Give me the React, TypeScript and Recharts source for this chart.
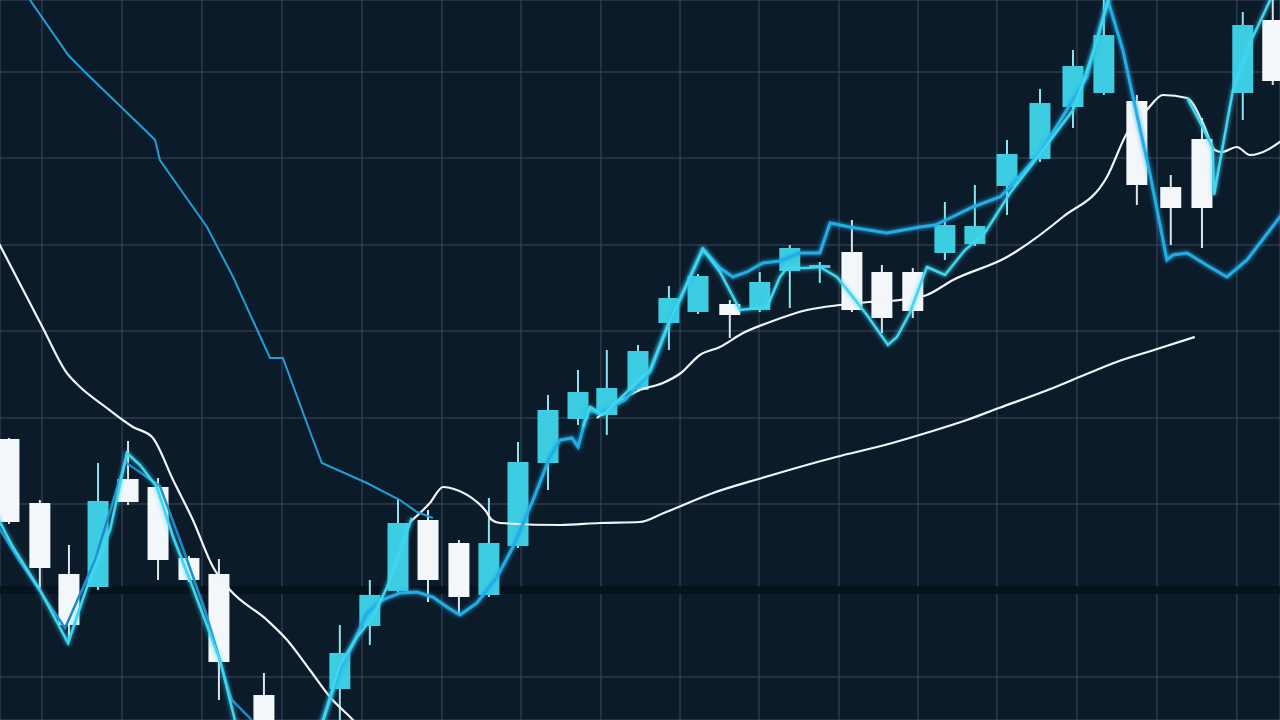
import React from 'react';
import { ComposedChart, Bar, Line, XAxis, YAxis, CartesianGrid, ReferenceArea } from 'recharts';

// candle sessions (x) and prices
const sessions = [0, 1.03, 2, 2.97, 3.97, 4.97, 6, 7, 8.5, 11.03, 12.03, 12.97, 13.97, 15, 16, 16.97, 17.97, 18.97, 19.93, 20.97, 22, 22.97, 24.03, 25.03, 26.03, 27.03, 28.1, 29.1, 30.13, 31.2, 32.2, 33.27, 34.37, 35.47, 36.5, 37.6, 38.73, 39.77, 41.13, 42.13];
const opens = [128.1, 121.7, 114.6, 113.3, 124.1, 123.3, 116.2, 114.6, 102.5, 103.1, 109.4, 112.9, 120.0, 117.7, 112.5, 117.4, 125.7, 130.1, 130.5, 133.0, 139.7, 140.8, 141.6, 141.0, 144.9, 145.2, 146.8, 144.8, 144.8, 146.7, 147.6, 153.4, 156.1, 161.3, 162.7, 161.9, 153.3, 158.1, 162.7, 170.0];
const closes = [119.8, 115.2, 109.5, 121.9, 121.8, 116.0, 114.0, 105.8, 100.0, 106.7, 112.5, 119.7, 114.0, 112.3, 117.7, 125.8, 131.0, 132.8, 133.2, 136.9, 142.2, 144.4, 140.5, 143.8, 147.2, 145.5, 141.0, 140.2, 140.9, 149.5, 149.4, 156.6, 161.7, 165.4, 168.5, 153.5, 151.2, 151.2, 169.5, 163.9];
const highs = [128.2, 122.0, 117.5, 125.7, 127.9, 124.2, 116.4, 116.1, 104.7, 109.5, 114.0, 122.0, 121.0, 118.0, 122.2, 127.8, 132.5, 135.0, 137.0, 137.5, 143.4, 144.6, 142.0, 144.8, 147.5, 145.8, 150.0, 145.5, 145.2, 151.8, 153.5, 158.0, 163.1, 167.0, 172.0, 162.5, 154.5, 160.2, 170.8, 172.0];
const lows = [119.6, 113.2, 108.0, 113.0, 121.5, 114.0, 113.8, 102.0, 100.0, 100.0, 107.5, 112.5, 111.8, 110.7, 112.3, 117.2, 123.0, 129.5, 128.5, 132.8, 137.0, 140.6, 138.2, 140.8, 141.2, 143.7, 140.8, 138.7, 140.2, 146.0, 147.4, 150.5, 155.8, 159.2, 162.5, 151.5, 147.5, 147.2, 160.0, 163.5];

// indicator lines: [session, value]
const slowBlue: [number, number | null][] = [
  [0.5, 173.5], [0.7, 172.0], [1.97, 166.5], [2.53, 164.8], [4.6, 158.8], [4.87, 158.0], [5.03, 156.0],
  [6.6, 149.3], [7.47, 144.3], [8.7, 136.2], [9.13, 136.2], [10.1, 128.3], [10.43, 125.7], [11.93, 123.7],
  [13.03, 122.0], [13.6, 120.8], [14.13, 120.2],
];
const fastCyan: [number, number | null][] = [
  [-0.6, 121.5], [0.13, 117.3], [1.03, 113.0], [1.97, 107.7], [2.6, 113.3], [3.37, 119.0], [3.93, 126.7],
  [4.37, 125.5], [4.93, 123.3], [5.47, 118.3], [6.03, 114.0], [7.03, 106.0], [7.53, 100.0], [8.03, 95.0],
  [9.7, 95.0], [10.47, 100.0], [11.03, 105.5], [11.6, 108.3], [12.13, 110.3], [12.6, 113.3], [12.93, 116.0],
  [13.43, 120.2], [16, null],
  [19.13, 129.3], [19.37, 131.3], [19.8, 130.5], [21.37, 135.0], [21.97, 139.5], [22.43, 142.5], [23.13, 147.1],
  [23.7, 144.8], [24.37, 141.0], [25.27, 141.3], [25.7, 144.3], [25.93, 145.2], [26.6, 145.2], [27.03, 145.3],
  [27.6, 144.3], [28.13, 142.3], [28.6, 140.5], [29.3, 137.5], [29.6, 138.3], [30.03, 140.7], [30.6, 145.3],
  [31.2, 144.5], [31.87, 147.0], [32.53, 148.7], [33.37, 152.7], [34.47, 157.0], [35.47, 161.0], [35.8, 163.7],
  [36.27, 168.0], [36.7, 172.5], [38, null],
  [39.27, 162.2], [39.7, 159.8], [40.13, 157.2], [40.17, 152.5], [40.8, 163.0], [41.37, 167.7], [42.2, 173.0],
];
const shadowBlue: [number, number | null][] = [
  [-0.6, 120.5], [0.37, 115.8], [1.87, 109.2], [2.87, 116.0], [3.87, 125.8], [5.03, 123.4], [5.7, 118.0],
  [6.53, 111.0], [7.43, 102.0], [8.03, 100.2], [8.7, 97.0],
];
const emaCyan: [number, number | null][] = [
  [10.2, 97.5], [11.03, 105.0], [11.53, 108.0], [11.93, 110.7], [12.43, 112.0], [13.03, 112.7], [13.6, 112.8],
  [14.13, 112.3], [14.6, 111.3], [15.03, 110.5], [15.6, 111.7], [16.27, 114.3], [16.8, 117.3], [17.47, 122.0],
  [18.03, 126.3], [18.37, 128.0], [18.77, 128.2], [18.97, 127.3], [19.3, 131.0], [19.7, 130.7], [20.53, 132.0],
  [21.37, 134.8], [21.97, 139.5], [22.43, 142.5], [23.13, 147.1], [23.7, 145.2], [24.13, 144.3], [24.6, 144.8],
  [25.13, 145.7], [25.7, 145.9], [26.37, 146.7], [27.03, 146.7], [27.37, 149.7], [28.03, 149.3], [29.27, 148.7],
  [30.37, 149.3], [30.87, 149.5], [31.37, 150.2], [32.13, 151.3], [33.03, 152.3], [33.37, 153.3], [34.37, 156.7],
  [35.47, 162.0], [35.93, 164.3], [36.63, 172.0], [37.13, 167.0], [37.47, 162.3], [38.03, 154.7], [38.6, 146.0],
  [38.8, 146.5], [39.27, 146.7], [40.03, 145.3], [40.6, 144.3], [41.27, 146.0], [42.6, 151.2],
];
const maLong: [number, number | null][] = [
  [-0.6, 149.2], [1.13, 139.2], [1.93, 134.7], [2.37, 133.3], [3.13, 131.5], [4.13, 129.3], [4.77, 128.3],
  [5.47, 124.0], [6.13, 120.0], [6.8, 115.3], [7.37, 113.0], [8.6, 110.0], [9.27, 108.0], [10.03, 105.0],
  [10.7, 102.3], [11.53, 99.8], [12.03, 98.0],
];
const maSlow: [number, number | null][] = [
  [13.37, 119.8], [14.03, 121.7], [14.47, 123.3], [14.93, 123.0], [15.6, 121.8], [15.87, 121.0], [16.1, 120.0],
  [16.37, 119.7], [18.37, 119.5], [19.7, 119.7], [21.03, 119.8], [21.83, 120.7], [23.47, 122.7], [25.1, 124.2],
  [27.57, 126.3], [29.2, 127.5], [30.57, 128.7], [31.93, 130.0], [33.0, 131.2], [34.63, 133.0], [36.0, 134.7],
  [37.1, 136.0], [38.17, 137.0], [39.53, 138.3],
];
const maMid: [number, number | null][] = [
  [19.6, 130.2], [21.03, 133.0], [21.8, 133.7], [22.4, 134.7], [23.03, 136.5], [23.7, 137.3], [24.47, 138.7],
  [25.37, 139.8], [26.6, 141.0], [27.7, 141.5], [28.67, 141.8], [29.7, 142.0], [30.6, 142.5], [31.47, 144.0],
  [33.27, 146.3], [35.13, 150.3], [36.6, 154.3], [37.27, 158.7], [37.93, 161.0], [38.47, 162.5], [39.27, 162.2],
  [39.8, 159.7], [40.2, 157.0], [40.43, 156.8], [40.93, 157.3], [41.37, 156.5], [42.6, 158.3],
];

// grid positions
const gridX = [1.1, 3.77, 6.43, 9.1, 11.77, 14.43, 17.07, 19.73, 22.37, 25.0, 27.67, 30.3, 32.93, 35.6, 38.27, 40.93];
const gridY = [104.3, 112.9, 121.6, 130.2, 138.9, 147.5, 156.2, 164.8];

const BODY_W = 21;

const candles = sessions.map((t, i) => ({ t, open: opens[i], close: closes[i], high: highs[i], low: lows[i] }));
const toPoints = (pts: [number, number | null][]) => pts.map(([t, v]) => ({ t, v }));

const Candle = (props: any) => {
  const { x, y, width, height, index } = props;
  const c = candles[index];
  if (!c || height == null || x == null) return null;
  const top = Math.min(y, y + height);
  const h = Math.abs(height);
  const unit = h / (c.high - c.low);
  const bodyTop = top + (c.high - Math.max(c.open, c.close)) * unit;
  const bodyH = Math.max(Math.abs(c.open - c.close) * unit, 2);
  const cx = x + (width || 0) / 2;
  const up = c.close >= c.open;
  const fill = up ? '#3ccde2' : '#f4f7f9';
  const wick = up ? '#8fe3ee' : '#dfe6ea';
  return (
    <g>
      <line x1={cx} x2={cx} y1={top} y2={top + h} stroke={wick} strokeWidth={2} />
      <rect x={cx - BODY_W / 2} y={bodyTop} width={BODY_W} height={bodyH} fill={fill} />
    </g>
  );
};

export default function App() {
  return (
    <div style={{ position: 'fixed', left: 0, top: 0, width: 1280, height: 720, background: '#0c1b2a' }}>
      <ComposedChart width={1280} height={720} data={candles} margin={{ top: 0, right: 0, bottom: 0, left: 0 }}>
        <defs>
          <filter id="glow" filterUnits="userSpaceOnUse" x="0" y="0" width="1280" height="720">
            <feGaussianBlur stdDeviation="2.2" result="blur" />
            <feMerge>
              <feMergeNode in="blur" />
              <feMergeNode in="SourceGraphic" />
            </feMerge>
          </filter>
        </defs>
        <CartesianGrid stroke="#3a4756" strokeOpacity={0.75} strokeWidth={1.5} />
        <XAxis dataKey="t" type="number" domain={[-0.3, 42.37]} ticks={gridX} allowDataOverflow hide />
        <YAxis type="number" domain={[100, 172]} ticks={gridY} allowDataOverflow hide />
        <ReferenceArea y1={112.6} y2={113.4} fill="#06111b" fillOpacity={0.9} stroke="none" />
        <Bar dataKey={(d: any) => [d.low, d.high]} barSize={BODY_W} shape={<Candle />} isAnimationActive={false} />
        <Line data={toPoints(maLong)} dataKey="v" type="monotone" stroke="#f2f5f7" strokeWidth={2.2} dot={false} isAnimationActive={false} />
        <Line data={toPoints(maSlow)} dataKey="v" type="monotone" stroke="#f2f5f7" strokeWidth={2.2} dot={false} isAnimationActive={false} />
        <Line data={toPoints(maMid)} dataKey="v" type="monotone" stroke="#f2f5f7" strokeWidth={2.2} dot={false} isAnimationActive={false} />
        <Line data={toPoints(slowBlue)} dataKey="v" type="linear" stroke="#1f9fd6" strokeWidth={2} dot={false} isAnimationActive={false} />
        <Line data={toPoints(shadowBlue)} dataKey="v" type="linear" stroke="#1d86cc" strokeWidth={2.5} dot={false} isAnimationActive={false} />
        <Line data={toPoints(emaCyan)} dataKey="v" type="linear" stroke="#22ade6" strokeWidth={3} dot={false} filter="url(#glow)" isAnimationActive={false} />
        <Line data={toPoints(fastCyan)} dataKey="v" type="linear" stroke="#3fd6ef" strokeWidth={2.5} dot={false} filter="url(#glow)" isAnimationActive={false} />
      </ComposedChart>
    </div>
  );
}
